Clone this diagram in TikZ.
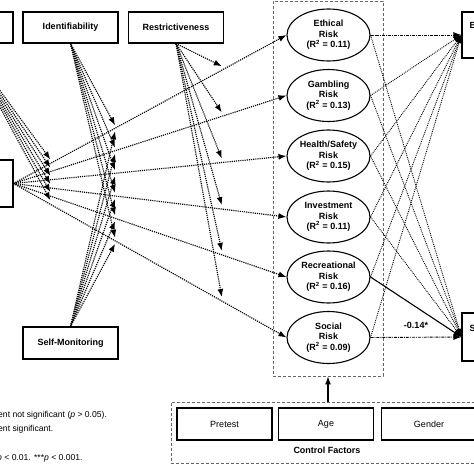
\documentclass[tikz,border=0pt]{standalone}
\usepackage{fontspec}
\setmainfont{Liberation Sans}
\usetikzlibrary{shapes.geometric,arrows.meta,calc}
\newcommand{\modarrow}[4]{\draw[modline] (#1) -- ($(src.east)!#2!(#3.west)+(0,#4)$);}

\begin{document}
\begin{tikzpicture}[x=1pt,y=-1pt,>={Latex[length=8pt,width=6pt]},
    blk/.style={draw,line width=1.1pt,minimum width=95pt,minimum height=31pt,
      font=\fontsize{9}{10.5}\selectfont\bfseries},
    risk/.style={draw,ellipse,line width=1.1pt,minimum width=83pt,minimum height=52pt,
      inner sep=0pt,align=center,font=\fontsize{9}{10.5}\selectfont\bfseries},
    modline/.style={->,densely dotted,line width=1.15pt},
    effline/.style={->,densely dotted,line width=0.9pt},
    grpbox/.style={draw=black!60,densely dashed,line width=0.9pt,inner sep=0pt}]
  \useasboundingbox (0,0) rectangle (474,474);
  \clip (0,0) rectangle (474,474);
  % predictors and moderators
  \node[blk] (modA) at (-34.5,27.5) {};
  \node[blk] (ident) at (70.5,27.5) {Identifiability};
  \node[blk] (restr) at (176,27.5) {Restrictiveness};
  \node[blk,minimum height=47pt] (src) at (-34.5,183.5) {};
  \node[blk,minimum height=32pt] (selfmon) at (70.5,343) {Self-Monitoring};
  % risk domains
  \node[grpbox,minimum width=110pt,minimum height=375pt] (riskbox) at (328,188.5) {};
  \node[risk] (ethical) at (328.5,35) {Ethical\\Risk\\(R\textsuperscript{2} = 0.11)};
  \node[risk] (gambling) at (328.5,95.5) {Gambling\\Risk\\(R\textsuperscript{2} = 0.13)};
  \node[risk] (health) at (328.5,156) {Health/Safety\\Risk\\(R\textsuperscript{2} = 0.15)};
  \node[risk] (invest) at (328.5,217) {Investment\\Risk\\(R\textsuperscript{2} = 0.11)};
  \node[risk] (recr) at (328.5,277) {Recreational\\Risk\\(R\textsuperscript{2} = 0.16)};
  \node[risk] (social) at (328.5,337.5) {Social\\Risk\\(R\textsuperscript{2} = 0.09)};
  % outcomes
  \node[blk,minimum height=46pt] (outA) at (509.5,35) {};
  \node[blk,minimum height=48pt] (outB) at (509.5,337) {};
  \node[anchor=west,font=\fontsize{9}{10.5}\selectfont\bfseries] (outAtxt) at (466,25) {B};
  \node[anchor=west,font=\fontsize{9}{10.5}\selectfont\bfseries] (outBtxt) at (466,328) {S};
  % control factors
  \node[grpbox,minimum width=319pt,minimum height=61pt] (ctrl) at (330.5,432.5) {};
  \node[blk,minimum height=32pt,font=\fontsize{9}{10.5}\selectfont] (pretest) at (224.5,424) {Pretest};
  \node[blk,minimum height=32pt,font=\fontsize{9}{10.5}\selectfont] (age) at (326,424) {Age};
  \node[blk,minimum height=32pt,font=\fontsize{9}{10.5}\selectfont] (gender) at (429,424) {Gender};
  \node[font=\fontsize{9}{10.5}\selectfont\bfseries] (ctrllbl) at (327,450) {Control Factors};
  \draw[->,line width=1.1pt] (riskbox.south |- ctrl.north) -- (riskbox.south);
  % paths and moderations
  \foreach \r in {ethical,gambling,health,invest,recr,social}{
    \draw[modline] (src.east) -- (\r.west);
    \modarrow{modA.south}{0.135}{\r}{-4}
    \modarrow{ident.south}{0.372}{\r}{-3}
    \modarrow{selfmon.north}{0.372}{\r}{3}
    \modarrow{restr.south}{0.763}{\r}{-4}
  }
  \foreach \r in {gambling,health,invest,recr,social}
    \draw[effline] (\r.east) -- (outA.west);
  \foreach \r in {ethical,gambling,health,invest}
    \draw[effline] (\r.east) -- (outB.west);
  \draw[effline,densely dash dot] (ethical.east) -- (outA.west);
  \draw[effline,densely dash dot] (social.east) -- (outB.west);
  \draw[->,line width=1.1pt] (recr.east) -- node[pos=0.5,yshift=-18pt,font=\fontsize{9}{10.5}\selectfont\bfseries] {-0.14*} (outB.west);
  % notes
  \begin{scope}[every node/.style={anchor=west,inner sep=0pt,font=\fontsize{8.6}{10}\selectfont}]
    \node (note1) at (-2,415) {ent not significant (\textit{p} > 0.05).};
    \node (note2) at (-2,429) {ent significant.};
    \node (note3) at (-3,458) {\textit{p} < 0.01. ***\textit{p} < 0.001.};
  \end{scope}
\end{tikzpicture}
\end{document}
